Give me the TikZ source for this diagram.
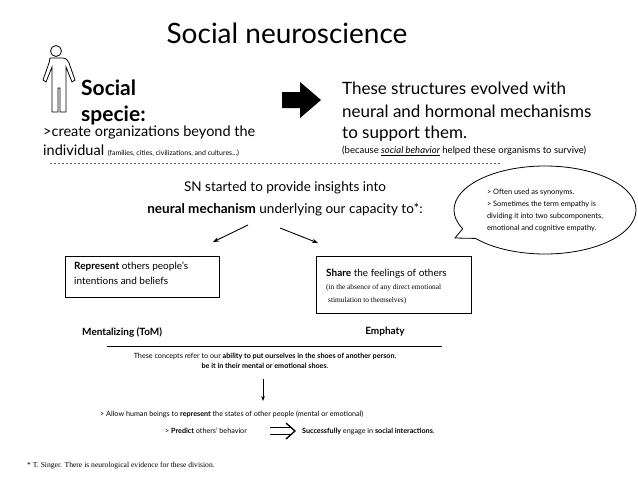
\documentclass[tikz,border=0pt]{standalone}
\usepackage{fontspec}
\setmainfont{Lato}
\newfontfamily\serifx{Liberation Serif}
\usetikzlibrary{shapes.callouts,arrows.meta}
\begin{document}
\begin{tikzpicture}[x=1pt,y=-1pt,
  txt/.style={inner sep=0pt,anchor=west},
  boxn/.style={draw,line width=0.9pt,anchor=north west,inner sep=0pt}]
\useasboundingbox (0,0) rectangle (638,479);
\node[inner sep=0pt] (title) at (287,33) {\fontsize{28}{30}\selectfont Social neuroscience};
% person icon
\begin{scope}[line width=0.8pt]
\draw (56,51) circle (5.5);
\draw (50,58) -- (62,58) .. controls (66,58) and (68,60) .. (69,63) -- (75,80) -- (72,82) -- (66,67) -- (66,112) -- (60,112) -- (60,88) -- (58,88) -- (58,112) -- (52,112) -- (52,67) -- (46,82) -- (43,80) -- (49,63) .. controls (50,60) .. (50,58);
\end{scope}
\node[txt] (soc) at (81,88) {\fontsize{21}{22}\selectfont\bfseries Social};
\node[txt] (spe) at (81,115) {\fontsize{21}{22}\selectfont\bfseries specie:};
\node[txt] (cr1) at (43,132) {\fontsize{14.5}{16}\selectfont >create organizations beyond the};
\node[txt] (cr2) at (43,151) {\fontsize{14.5}{16}\selectfont individual {\fontsize{7}{8}\selectfont (families, cities, civilizations, and cultures...)}};
\fill (282,92) -- (300,92) -- (300,82) -- (321,100) -- (300,118) -- (300,108) -- (282,108) -- cycle;
\node[txt] (t1) at (342,88) {\fontsize{17}{18}\selectfont These structures evolved with};
\node[txt] (t2) at (342,111) {\fontsize{17}{18}\selectfont neural and hormonal mechanisms};
\node[txt] (t3) at (342,134) {\fontsize{17}{18}\selectfont to support them.};
\node[txt] (t4) at (342,151) {\fontsize{9.5}{10}\selectfont (because \underline{\itshape social behavior} helped these organisms to survive)};
\draw[dashed,dash pattern=on 2pt off 2pt,gray!70!black] (50,163) -- (500,163);
\node[inner sep=0pt] (sn1) at (285,188) {\fontsize{13.5}{15}\selectfont SN started to provide insights into};
\node[inner sep=0pt] (sn2) at (285,210) {\fontsize{13.5}{15}\selectfont \textbf{neural mechanism} underlying our capacity to*:};
\node[ellipse callout,draw,line width=0.8pt,minimum width=182pt,minimum height=88pt,callout absolute pointer={(455,238)},align=left,inner sep=0pt] (bub) at (545,210) {\fontsize{7.4}{10}\selectfont > Often used as synonyms.\\ \fontsize{7.4}{10}\selectfont > Sometimes the term empathy is\\ \fontsize{7.4}{10}\selectfont dividing it into two subcomponents,\\ \fontsize{7.4}{10}\selectfont emotional and cognitive empathy.};
\coordinate (a1s) at (248,225); \coordinate (a1e) at (213,242);
\coordinate (a2s) at (280,228); \coordinate (a2e) at (318,243);
\draw[-{Stealth[length=6pt]},line width=0.9pt] (a1s) -- (a1e);
\draw[-{Stealth[length=6pt]},line width=0.9pt] (a2s) -- (a2e);
\node[boxn,minimum width=154pt,minimum height=41pt] (bl) at (65,256) {};
\node[txt] at (74,267) {\fontsize{10}{12}\selectfont\textbf{Represent} others people's};
\node[txt] at (74,281) {\fontsize{10}{12}\selectfont intentions and beliefs};
\node[boxn,minimum width=155pt,minimum height=57pt] (br) at (316,256) {};
\node[txt] at (326,274) {\fontsize{10}{12}\selectfont\textbf{Share} the feelings of others};
\node[txt] at (326,288) {\serifx\fontsize{7.4}{8}\selectfont (in the absence of any direct emotional};
\node[txt] at (328,301) {\serifx\fontsize{7.4}{8}\selectfont stimulation to themselves)};
\node[txt] (ment) at (82,332) {\fontsize{10}{12}\selectfont\bfseries Mentalizing (ToM)};
\node[inner sep=0pt] (emp) at (385,332) {\fontsize{10}{12}\selectfont\bfseries Emphaty};
\draw[line width=0.8pt] (107,346) -- (442,346);
\node[inner sep=0pt] (c1) at (265,356) {\fontsize{7.2}{8}\selectfont These concepts refer to our \textbf{ability to put ourselves in the shoes of another person},};
\node[inner sep=0pt] (c2) at (265,366) {\fontsize{7.2}{8}\selectfont \textbf{be it in their mental or emotional shoes}.};
\coordinate (d1) at (263,379); \coordinate (d2) at (263,401);
\draw[-{Stealth[length=5pt]},line width=0.9pt] (d1) -- (d2);
\node[txt] (al) at (100,414) {\fontsize{7.2}{8}\selectfont > Allow human beings to \textbf{represent} the states of other people (mental or emotional)};
\node[txt] (pr) at (165,431) {\fontsize{7.2}{8}\selectfont > \textbf{Predict} others' behavior};
\begin{scope}[line width=1.3pt]
\draw (270,427.5) -- (291,427.5);
\draw (270,434.5) -- (291,434.5);
\draw (286,423) -- (295,431) -- (286,439);
\end{scope}
\node[txt] (su) at (302,431) {\fontsize{7.2}{8}\selectfont \textbf{Successfully} engage in \textbf{social interactions}.};
\node[txt] (fn) at (27,466) {\serifx\fontsize{7.6}{8}\selectfont * T. Singer. There is neurological evidence for these division.};
\end{tikzpicture}
\end{document}
